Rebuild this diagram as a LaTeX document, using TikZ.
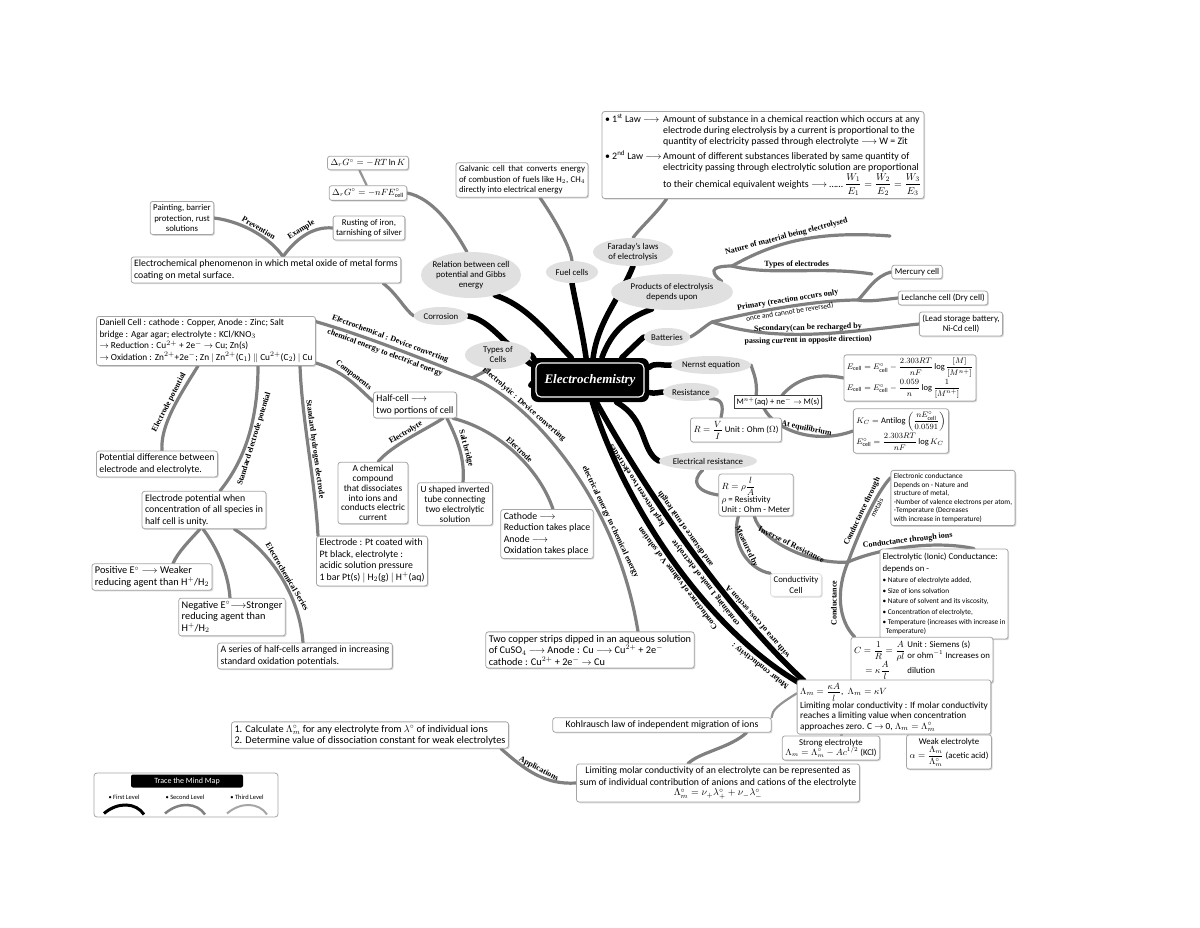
\documentclass[tikz,border=0pt]{standalone}
\usepackage{amsmath}
\usepackage{fontspec}
\setmainfont{Carlito}
\newfontfamily\lblfont{Liberation Serif}
\usetikzlibrary{shapes.geometric,shadows,calc}
\pgfdeclarelayer{bg}
\pgfsetlayers{bg,main}
\newcommand\lblf{\lblfont\bfseries\fontsize{8}{8.5}\selectfont}
\newcommand\txt{\fontsize{9.8}{11.5}\selectfont}
\newcommand\mtxt{\fontsize{8.8}{10.5}\selectfont}
\newcommand\smtxt{\fontsize{7.3}{8.6}\selectfont}
\begin{document}
\begin{tikzpicture}[x=1pt,y=-1pt,
  box/.style={draw=black!35, line width=0.8pt, rounded corners=2.5pt, fill=white, align=left, font=\txt, inner sep=3pt, drop shadow={opacity=0.3,shadow xshift=1.2pt,shadow yshift=-1.2pt}},
  cbox/.style={box, align=center},
  oval/.style={ellipse, fill=black!12, align=center, font=\fontsize{8.8}{10}\selectfont, inner sep=-40pt},
  lone/.style={line width=5.5pt, line cap=round, black},
  ltwo/.style={line width=3.2pt, line cap=round, black!50},
  lthree/.style={line width=2.2pt, line cap=round, black!42},
  blab/.style={font=\lblf, text=black, sloped, inner sep=1pt},
  slab/.style={font=\smtxt, text=black, sloped, inner sep=1pt},
  ulab/.style={font=\lblf, text=black, sloped, allow upside down, inner sep=1.5pt},
]
\useasboundingbox (0,0) rectangle (1200,927);

% ---------- centre ----------
\node[fill=black, rounded corners=7pt, minimum width=118pt, minimum height=44pt] (ecbg) at (590,380) {};
\node[draw=white, line width=1.1pt, rounded corners=5pt, minimum width=108pt, minimum height=34pt, text=white, font=\lblfont\bfseries\itshape\fontsize{13}{13}\selectfont] (ec) at (590,380) {Electrochemistry};

% ---------- first level ovals ----------
\node[oval, minimum width=100pt, minimum height=46pt] (rel) at (471,275) {Relation between cell\\potential and Gibbs\\energy};
\node[oval, minimum width=52pt, minimum height=22pt] (fuel) at (572,272) {Fuel cells};
\node[oval, minimum width=80pt, minimum height=28pt] (far) at (633,252) {Faraday's laws\\of electrolysis};
\node[oval, minimum width=122pt, minimum height=36pt] (prod) at (672,292) {Products of electrolysis\\depends upon};
\node[oval, minimum width=46pt, minimum height=18pt] (bat) at (667,337) {Batteries};
\node[oval, minimum width=54pt, minimum height=18pt] (cor) at (441,316) {Corrosion};
\node[oval, minimum width=66pt, minimum height=28pt] (types) at (498,355) {Types of\\Cells};
\node[oval, minimum width=80pt, minimum height=18pt] (nern) at (711,365) {Nernst equation};
\node[oval, minimum width=56pt, minimum height=18pt] (res) at (691,392) {Resistance};
\node[oval, minimum width=98pt, minimum height=18pt] (eres) at (708,461) {Electrical resistance};

% ---------- boxes ----------
\node[box, font=\mtxt] (g1) at (368,163) {$\Delta_r G^\circ = -RT\ln K$};
\node[box, font=\mtxt] (g2) at (368,193) {$\Delta_r G^\circ = -nFE^\circ_{\mathrm{cell}}$};
\node[cbox, font=\mtxt] (rust) at (369,228) {Rusting of iron,\\tarnishing of silver};
\node[cbox, font=\mtxt] (paint) at (182,218) {Painting, barrier\\protection, rust\\solutions};
\node[box] (corbox) at (266,270) {Electrochemical phenomenon in which metal oxide of metal forms\\coating on metal surface.};
\node[box, text width=126pt, align=justify, font=\mtxt] (galv) at (522,180) {Galvanic cell that converts energy of combustion of fuels like H$_2$, CH$_4$ directly into electrical energy};
\node[box, font=\fontsize{9.9}{11}\selectfont] (fara) at (763,155) {%
\begin{tabular}{@{}l@{\,}l@{}}
\textbullet\ 1$^{\mathrm{st}}$ Law $\longrightarrow$ & Amount of substance in a chemical reaction which occurs at any\\
 & electrode during electrolysis by a current is proportional to the\\
 & quantity of electricity passed through electrolyte $\longrightarrow$ W = Zit\\[3pt]
\textbullet\ 2$^{\mathrm{nd}}$ Law $\longrightarrow$ & Amount of different substances liberated by same quantity of\\
 & electricity passing through electrolytic solution are proportional\\
 & to their chemical equivalent weights $\longrightarrow$ \dots\dots\ $\dfrac{W_1}{E_1}=\dfrac{W_2}{E_2}=\dfrac{W_3}{E_3}$
\end{tabular}};
\node[box, font=\mtxt] (merc) at (917,272) {Mercury cell};
\node[box, font=\mtxt] (lecl) at (943,298) {Leclanche cell (Dry cell)};
\node[cbox, font=\mtxt] (lead) at (961,324) {(Lead storage battery,\\Ni-Cd cell)};
\node[box, font=\fontsize{8.5}{10}\selectfont] (nbox) at (910,378) {$E_{\mathrm{cell}} = E^\circ_{\mathrm{cell}} - \dfrac{2.303RT}{nF}\log\dfrac{[M]}{[M^{n+}]}$\\[1pt]$E_{\mathrm{cell}} = E^\circ_{\mathrm{cell}} - \dfrac{0.059}{n}\log\dfrac{1}{[M^{n+}]}$};
\node[box, draw=black!75, line width=1pt, rounded corners=0pt, inner sep=2pt, font=\fontsize{8.5}{10}\selectfont] (mbox) at (778,402) {M$^{n+}$(aq) + ne$^-$ $\rightarrow$ M(s)};
\node[box, font=\fontsize{8.5}{10}\selectfont] (kbox) at (901,431) {$K_C = \mathrm{Antilog}\left(\dfrac{nE^\circ_{\mathrm{cell}}}{0.0591}\right)$\\[1pt]$E^\circ_{\mathrm{cell}} = \dfrac{2.303RT}{nF}\log K_C$};
\node[box, font=\mtxt] (rvi) at (736,430) {$R = \dfrac{V}{I}$ Unit : Ohm ($\Omega$)};
\node[box, font=\mtxt] (rrho) at (756,495) {$R = \rho\dfrac{l}{A}$\\$\rho$ = Resistivity\\Unit : Ohm - Meter};
\node[cbox, draw=black!12, font=\mtxt] (ccell) at (796,585) {Conductivity\\Cell};
\node[box, font=\smtxt] (econ) at (953,498) {Electronic conductance\\Depends on - Nature and\\structure of metal,\\-Number of valence electrons per atom,\\-Temperature (Decreases\\with increase in temperature)};
\node[box, inner sep=2.5pt] (ionbox) at (944,594) {\begin{tabular}{@{}l@{}}
\mtxt Electrolytic (Ionic) Conductance:\\
\mtxt depends on -\\
\smtxt \textbullet\ Nature of electrolyte added,\\[-1pt]
\smtxt \textbullet\ Size of ions solvation\\[-1pt]
\smtxt \textbullet\ Nature of solvent and its viscosity,\\[-1pt]
\smtxt \textbullet\ Concentration of electrolyte,\\[-1pt]
\smtxt \textbullet\ Temperature (increases with increase in\\[-3pt]
\smtxt \ \ Temperature)
\end{tabular}};
\node[box, font=\mtxt] (cnd) at (922,660) {\begin{tabular}{@{}l@{\ }l@{}}
$C=\dfrac{1}{R}=\dfrac{A}{\rho l}$ & \begin{tabular}[c]{@{}l@{}}Unit : Siemens (s)\\ or ohm$^{-1}$ Increases on\end{tabular}\\
$\quad\;=\kappa\dfrac{A}{l}$ & dilution
\end{tabular}};
\node[box, font=\fontsize{9.3}{10.5}\selectfont] (molar) at (894,707) {$\Lambda_m = \dfrac{\kappa A}{l}$, \ $\Lambda_m = \kappa V$\\Limiting molar conductivity : If molar conductivity\\reaches a limiting value when concentration\\approaches zero. C $\rightarrow$ 0, $\Lambda_m = \Lambda^\circ_m$};
\node[cbox, font=\mtxt] (strong) at (831,748) {Strong electrolyte\\$\Lambda_m = \Lambda^\circ_m - Ac^{1/2}$ (KCl)};
\node[cbox, font=\mtxt] (weak) at (949,752) {Weak electrolyte\\$\alpha = \dfrac{\Lambda_m}{\Lambda^\circ_m}$ (acetic acid)};
\node[box] (kohl) at (662,725) {\quad Kohlrausch law of independent migration of ions\quad};
\node[cbox] (limit) at (718,783) {Limiting molar conductivity of an electrolyte can be represented as\\sum of individual contribution of anions and cations of the electrolyte\\[-1pt]$\Lambda^\circ_m = \nu_+\lambda^\circ_+ + \nu_-\lambda^\circ_-$};
\node[box, font=\fontsize{10.3}{11.5}\selectfont] (app) at (370,735) {1. Calculate $\Lambda^\circ_m$ for any electrolyte from $\lambda^\circ$ of individual ions\\2. Determine value of dissociation constant for weak electrolytes};
\node[box, font=\fontsize{10.3}{11.5}\selectfont] (copper) at (590,650) {Two copper strips dipped in an aqueous solution\\of CuSO$_4$ $\longrightarrow$ Anode : Cu $\longrightarrow$ Cu$^{2+}$ + 2e$^-$\\cathode : Cu$^{2+}$ + 2e$^-$ $\rightarrow$ Cu};
\node[box] (cath) at (547,534) {Cathode $\longrightarrow$\\Reduction takes place\\Anode $\longrightarrow$\\Oxidation takes place};
\node[cbox, font=\fontsize{9.3}{10}\selectfont] (ush) at (455,504) {U shaped inverted\\tube connecting\\two electrolytic\\solution};
\node[cbox, font=\fontsize{9.3}{9.8}\selectfont] (chem) at (373,493) {A chemical\\compound\\that dissociates\\into ions and\\conducts electric\\current};
\node[box] (half) at (415,405) {Half-cell $\longrightarrow$\\two portions of cell};
\node[box] (pt) at (372,561) {Electrode : Pt coated with\\Pt black, electrolyte :\\acidic solution pressure\\1 bar Pt(s) $|$ H$_2$(g) $|$ H$^+$(aq)};
\node[box, font=\fontsize{9.3}{11.5}\selectfont] (dan) at (206,341) {Daniell Cell : cathode : Copper, Anode : Zinc; Salt\\bridge : Agar agar; electrolyte : KCl/KNO$_3$\\$\rightarrow$ Reduction : Cu$^{2+}$ + 2e$^-$ $\rightarrow$ Cu; Zn(s)\\$\rightarrow$ Oxidation : Zn$^{2+}$+2e$^-$; Zn $|$ Zn$^{2+}$(C$_1$) $||$ Cu$^{2+}$(C$_2$) $|$ Cu};
\node[box] (potd) at (157,464) {Potential difference between\\electrode and electrolyte.};
\node[box] (ep) at (204,510) {Electrode potential when\\concentration of all species in\\half cell is unity.};
\node[box, font=\fontsize{10.3}{11.5}\selectfont] (pos) at (152,577) {Positive E$^\circ$ $\longrightarrow$ Weaker\\reducing agent than H$^+$/H$_2$};
\node[box, font=\fontsize{10.3}{11.5}\selectfont] (neg) at (232,617) {Negative E$^\circ$$\longrightarrow$Stronger\\reducing agent than\\H$^+$/H$_2$};
\node[box] (ser) at (305,656) {A series of half-cells arranged in increasing\\standard oxidation potentials.};

% ---------- legend ----------
\node[draw=black!35, line width=0.8pt, rounded corners=3pt, minimum width=184pt, minimum height=44pt] (leg) at (186,795) {};
\node[fill=black, rounded corners=2pt, text=white, font=\fontsize{8}{9}\selectfont, minimum width=112pt, minimum height=13pt, inner sep=1pt] (legt) at (187,781) {Trace the Mind Map};
\node[font=\fontsize{6.5}{7}\selectfont, inner sep=0pt] (lv1) at (124,797) {\textbullet\ First Level};
\node[font=\fontsize{6.5}{7}\selectfont, inner sep=0pt] (lv2) at (185,797) {\textbullet\ Second Level};
\node[font=\fontsize{6.5}{7}\selectfont, inner sep=0pt] (lv3) at (247,797) {\textbullet\ Third Level};

% ---------- connectors ----------
\begin{pgfonlayer}{bg}
\fill[white] (0,0) rectangle (1200,927);
% legend arcs
\draw[line width=3pt, black] ($(lv1.south)+(-20,14)$) .. controls ($(lv1.south)+(-6,2)$) and ($(lv1.south)+(12,3)$) .. ($(lv1.south)+(20,15)$);
\draw[line width=2.5pt, black!50] ($(lv2.south)+(-20,14)$) .. controls ($(lv2.south)+(-6,2)$) and ($(lv2.south)+(12,3)$) .. ($(lv2.south)+(20,15)$);
\draw[line width=2pt, black!35] ($(lv3.south)+(-20,14)$) .. controls ($(lv3.south)+(-6,2)$) and ($(lv3.south)+(12,3)$) .. ($(lv3.south)+(20,15)$);

% first level
\draw[lone] (ecbg.130) .. controls (545,330) and (525,305) .. (rel.-40);
\draw[lone] (ecbg.100) .. controls (582,330) and (576,305) .. (fuel.south);
\draw[lone] (ecbg.82) .. controls (598,320) and (622,295) .. (far.south);
\draw[lone] (ecbg.62) .. controls (612,330) and (628,318) .. (prod.220);
\draw[lone] (ecbg.35) .. controls (630,350) and (640,340) .. (bat.west);
\draw[lone] (ecbg.165) .. controls (505,345) and (490,320) .. (cor.east);
\draw[lone] (ecbg.185) .. controls (540,378) and (537,360) .. (types.east);
\draw[lone] (ecbg.12) .. controls (655,362) and (662,366) .. (nern.west);
\draw[lone] (ecbg.-12) .. controls (655,394) and (660,392) .. (res.west);
\draw[lone] (ecbg.-40) .. controls (648,420) and (640,450) .. (eres.west);
% molar conductivity (two black lines, text running up from the box)
\coordinate (m1) at ($(molar.north west)+(2,3)$);
\coordinate (m2) at ($(molar.north west)+(7,1)$);
\draw[lone] (m1) .. controls (712,632) and (628,515) .. (ecbg.-84)
  node[ulab, above, pos=0.13] (lbm1) {Molar conductivity :}
  node[ulab, above, pos=0.47] (lbm2) {Conductance of volume V of solution};
\draw[lone] (m2) .. controls (735,618) and (650,500) .. (ecbg.-74)
  node[ulab, above, pos=0.42] (lbm3) {containing 1 mole of electrolyte}
  node[ulab, above, pos=0.74] (lbm4) {kept between two electrodes}
  node[ulab, below, pos=0.24] (lbm5) {with area of cross section A}
  node[ulab, below, pos=0.57] (lbm6) {and distance of unit length};

% relation / corrosion
\draw[lthree] (g1.220) -- (g2.100);
\draw[ltwo] (g2.east) .. controls (432,198) and (452,225) .. (rel.100);
\draw[ltwo] (cor.west) .. controls (405,310) and (398,295) .. ($(corbox.south east)+(-18,0)$);
\coordinate (cv) at ($(corbox.north)+(17,0)$);
\draw[ltwo] (paint.east) .. controls (245,222) and (272,240) .. (cv) node[blab, above, pos=0.5] (lbprev) {Prevention};
\draw[ltwo] (cv) .. controls (295,240) and (312,226) .. (rust.west) node[blab, above, pos=0.5] (lbex) {Example};
% fuel, faraday
\draw[ltwo] (fuel.north) .. controls (570,245) and (552,215) .. ($(galv.south)+(18,0)$);
\draw[ltwo] (far.north) .. controls (640,228) and (655,215) .. ($(fara.south west)+(65,0)$);
% products
\coordinate (pj) at (732,266);
\coordinate (natE) at (890,236);
\coordinate (typE) at (872,274);
\draw[ltwo] (prod.12) .. controls (705,268) and (718,266) .. (pj);
\draw[ltwo] (pj) .. controls (770,245) and (810,230) .. (natE) node[blab, above, pos=0.45] (lbnat) {Nature of material being electrolysed};
\draw[ltwo] (pj) .. controls (770,276) and (820,266) .. (typE) node[blab, above, pos=0.5] (lbtyp) {Types of electrodes};
% batteries
\coordinate (bj) at (712,322);
\coordinate (pj2) at (858,300);
\draw[ltwo] (bat.east) .. controls (698,333) and (705,326) .. (bj);
\draw[ltwo] (bj) .. controls (760,310) and (820,300) .. (pj2) node[blab, above, pos=0.5] (lbpri) {Primary (reaction occurs only} node[slab, below, pos=0.5] (lbpri2) {once and cannot be reversed)};
\draw[ltwo] (pj2) .. controls (868,290) and (875,276) .. (merc.west);
\draw[ltwo] (pj2) .. controls (868,302) and (880,300) .. (lecl.west);
\draw[ltwo] (bj) .. controls (780,345) and (860,330) .. (lead.west) node[blab, above, pos=0.45] (lbsec) {Secondary(can be recharged by} node[blab, below, pos=0.45] (lbsec2) {passing current in opposite direction)};
% nernst
\draw[ltwo] (nern.east) .. controls (752,370) and (758,380) .. ($(mbox.north west)+(22,0)$);
\draw[ltwo] ($(mbox.north east)+(-40,0)$) .. controls (795,380) and (815,372) .. (nbox.west);
\draw[ltwo] ($(mbox.south west)+(30,0)$) .. controls (775,430) and (815,445) .. (kbox.west) node[blab, above, pos=0.57] (lbeq) {At equilibrium};
% resistance
\draw[ltwo] (res.-20) .. controls (722,398) and (724,405) .. ($(rvi.north)+(-15,0)$);
\draw[ltwo] (eres.-120) .. controls (690,482) and (698,492) .. (rrho.west);
\coordinate (jc) at (848,562);
\draw[ltwo] ($(rrho.south west)+(20,0)$) .. controls (730,545) and (750,570) .. (ccell.north west) node[blab, above, pos=0.42] (lbmeas) {Measured by};
\draw[ltwo] ($(rrho.south west)+(36,0)$) .. controls (760,540) and (810,565) .. (jc) node[blab, above, pos=0.5] (lbinv) {Inverse of Resistance};
\draw[ltwo] (jc) .. controls (860,530) and (875,495) .. (econ.162) node[blab, above, pos=0.5] (lbmet) {Conductance through} node[slab, below, pos=0.6] (lbmet2) {metals};
\draw[ltwo] (jc) .. controls (880,548) and (935,540) .. ($(ionbox.north)+(30,0)$) node[blab, above, pos=0.5] (lbion) {Conductance through ions};
\draw[ltwo] (jc) .. controls (836,590) and (838,620) .. ($(cnd.north west)+(4,0)$);
\node[font=\lblf, rotate=90, inner sep=1pt] (lbcond) at (834,603) {Conductance};
% molar, kohlrausch, applications
\draw[lthree] (molar.172) .. controls (778,705) and (772,710) .. (kohl.north east);
\draw[ltwo] ($(kohl.south east)+(-25,0)$) .. controls (730,748) and (700,752) .. ($(limit.north)+(-30,0)$);
\draw[ltwo] (limit.west) .. controls (545,785) and (525,770) .. ($(app.south east)+(-8,0)$) node[blab, above, pos=0.5] (lbapp) {Applications};
\draw[lthree] ($(molar.south)+(-52,0)$) -- ($(strong.north)+(10,0)$);
% types of cells
\coordinate (tj) at (472,378);
\draw[ltwo] (types.-120) -- (tj);
\draw[ltwo] (dan.10) .. controls (372,338) and (424,360) .. (tj)
  node[blab, above, pos=0.44, inner sep=2pt] (lbech1) {Electrochemical : Device converting}
  node[blab, below, pos=0.44, inner sep=2.5pt] (lbech2) {chemical energy to electrical energy};
\draw[ltwo] (tj) .. controls (522,397) and (615,490) .. ($(copper.north)+(48,0)$)
  node[blab, above, pos=0.27] (lbely1) {Electrolytic : Device converting}
  node[blab, above, pos=0.72] (lbely2) {electrical energy to chemical energy};
\draw[ltwo] ($(dan.south east)+(0,-3)$) .. controls (345,372) and (355,385) .. (half.175) node[blab, above, pos=0.52] (lbcomp) {Components};
\draw[ltwo] ($(half.south)+(28,0)$) .. controls (425,430) and (392,445) .. ($(chem.north)+(5,0)$) node[blab, above, pos=0.5] (lbelyt) {Electrolyte};
\draw[ltwo] ($(half.south)+(32,0)$) .. controls (458,440) and (465,460) .. ($(ush.north)+(8,0)$) node[blab, above, pos=0.5] (lbsalt) {Salt bridge};
\draw[ltwo] ($(half.south)+(38,0)$) .. controls (500,430) and (540,470) .. ($(cath.north)+(6,0)$) node[blab, above, pos=0.5] (lbelec) {Electrode};
% daniell children
\draw[ltwo] ($(dan.south)+(-8,0)$) .. controls (180,395) and (160,425) .. ($(potd.north)+(5,0)$) node[blab, above, pos=0.45] (lbep) {Electrode potential};
\draw[ltwo] ($(dan.south)+(52,0)$) .. controls (258,420) and (245,460) .. ($(ep.north)+(16,0)$) node[blab, below, pos=0.5] (lbsep) {Standard electrode potential};
\draw[ltwo] ($(dan.south)+(94,0)$) .. controls (302,420) and (315,480) .. ($(pt.north)+(-54,0)$) node[blab, above, pos=0.5] (lbshe) {Standard hydrogen electrode};
\draw[ltwo] ($(ep.south)+(-4,0)$) .. controls (190,540) and (178,552) .. ($(pos.north)+(21,0)$);
\draw[ltwo] ($(ep.south)+(-1,0)$) .. controls (215,545) and (228,570) .. ($(neg.north)+(-2,0)$);
\draw[ltwo] ($(ep.south east)+(-32,0)$) .. controls (275,555) and (300,600) .. ($(ser.north)+(-2,0)$) node[blab, above, pos=0.5] (lbser) {Electrochemical Series};
\end{pgfonlayer}
\end{tikzpicture}
\end{document}
